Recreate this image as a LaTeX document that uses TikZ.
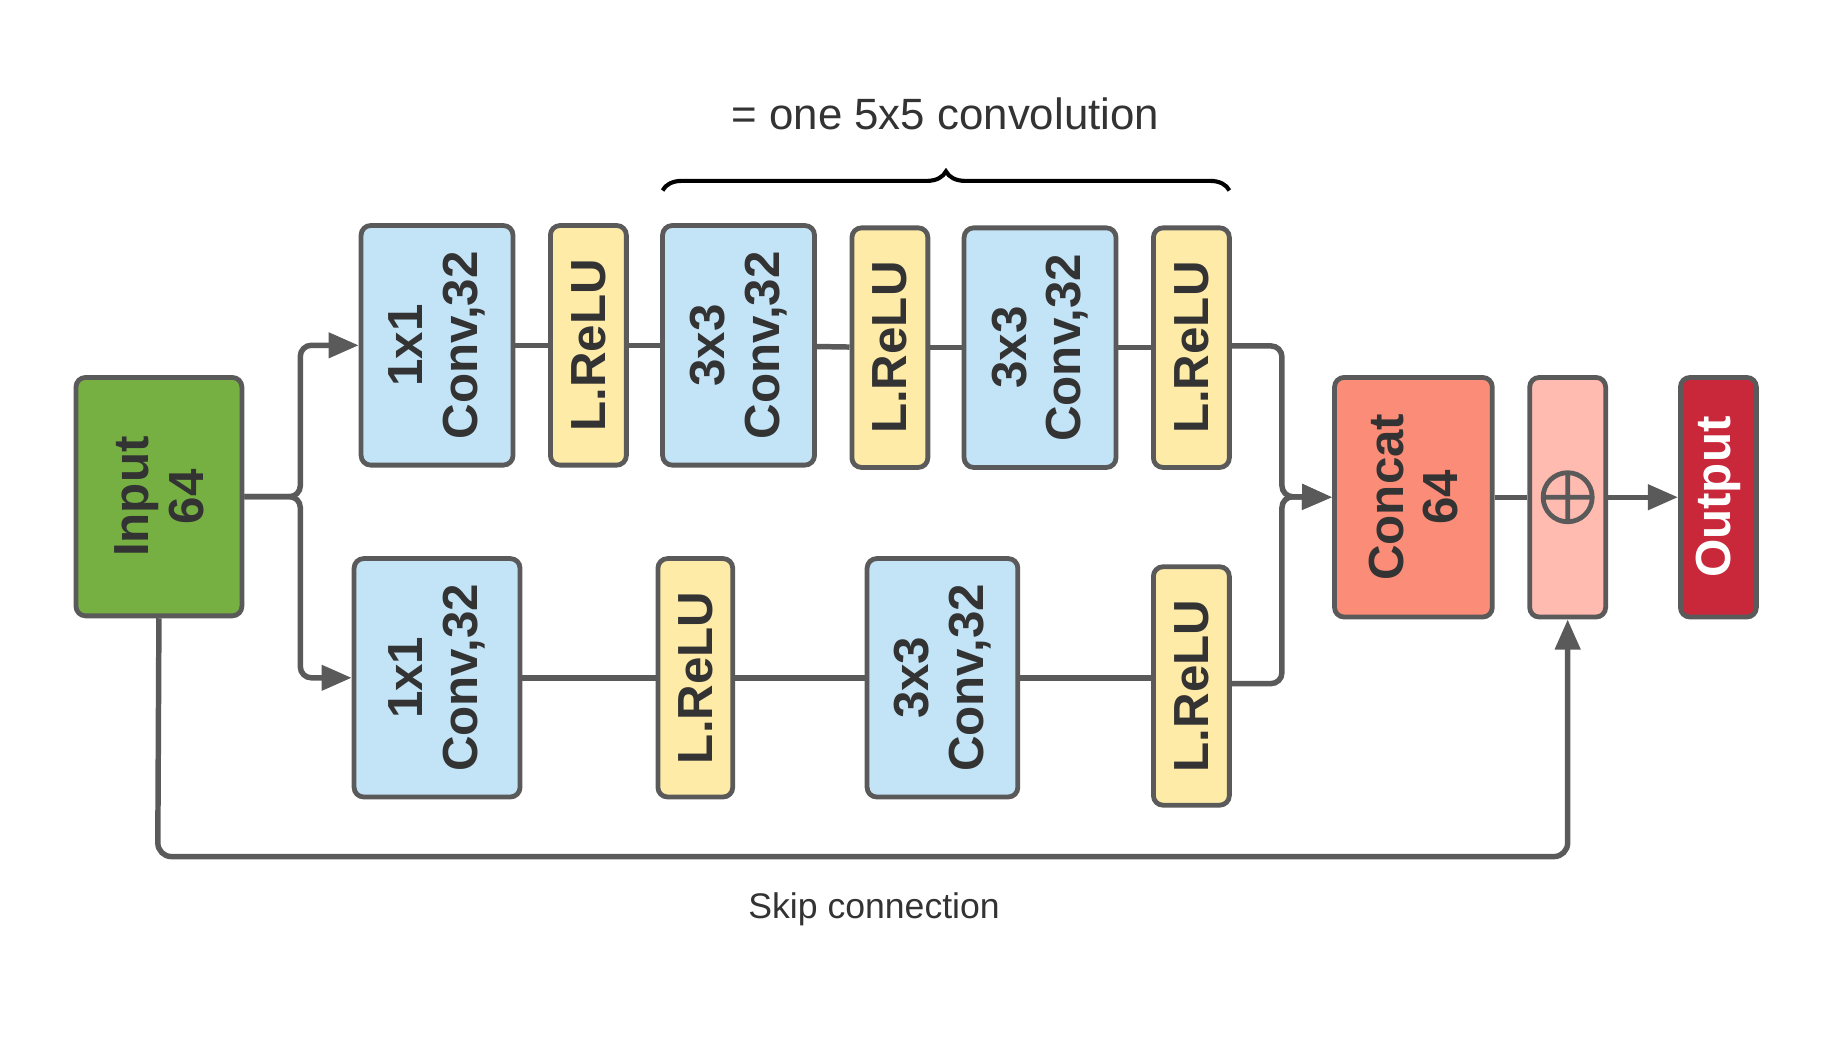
\documentclass[tikz,border=0pt]{standalone}
\usepackage{fontspec}
\setmainfont{Liberation Sans}
\usetikzlibrary{fit,arrows.meta,decorations.pathreplacing}
\definecolor{bl}{HTML}{C3E3F6}
\definecolor{yl}{HTML}{FFEBA8}
\definecolor{gr}{HTML}{76B043}
\definecolor{sal}{HTML}{FB8C78}
\definecolor{pk}{HTML}{FFBBB0}
\definecolor{rd}{HTML}{C8283A}
\definecolor{ln}{HTML}{5A5A5A}
\definecolor{tx}{HTML}{333333}
\begin{document}
\begin{tikzpicture}[x=0.03cm,y=-0.03cm,
  box/.style={draw=ln,line width=3.5pt,rounded corners=7pt,inner sep=0pt},
  lab/.style={rotate=90,align=center,font=\fontsize{36}{40}\selectfont\bfseries,text=tx},
  con/.style={draw=ln,line width=4pt,rounded corners=8pt},
  arr/.style={con,-{Triangle[length=22pt,width=18pt]}}]
\useasboundingbox (0,0) rectangle (1560,891);
\newcommand\blk[7]{\node[box,fill=#6,fit={(#2,#3)(#4,#5)}] (#1) {};
  \node[lab] (#1t) at (#1) {#7};}
% connectors first (behind boxes)
\coordinate (sp) at (257,425);
\coordinate (mg) at (1097,425);
\blk{in}{65}{323}{207}{527}{gr}{Input\\64}
\blk{a1}{309}{193}{439}{398}{bl}{1x1\\Conv,32}
\blk{a2}{471}{193}{536}{398}{yl}{L.ReLU}
\blk{a3}{567}{193}{697}{398}{bl}{3x3\\Conv,32}
\blk{a4}{729}{195}{794}{400}{yl}{L.ReLU}
\blk{a5}{825}{195}{955}{400}{bl}{3x3\\Conv,32}
\blk{a6}{987}{195}{1052}{400}{yl}{L.ReLU}
\blk{b1}{303}{478}{445}{682}{bl}{1x1\\Conv,32}
\blk{b2}{563}{478}{627}{682}{yl}{L.ReLU}
\blk{b3}{742}{478}{871}{682}{bl}{3x3\\Conv,32}
\blk{b4}{987}{485}{1052}{689}{yl}{L.ReLU}
\blk{cc}{1142}{323}{1277}{528}{sal}{Concat\\64}
\node[box,fill=pk,fit={(1309,323)(1374,528)}] (pl) {};
\node[box,fill=rd,fit={(1438,323)(1503,528)}] (out) {};
\node[rotate=90,font=\fontsize{36}{40}\selectfont\bfseries,text=white] (outt) at (out) {Output};
\draw[ln,line width=3.5pt] (pl) circle (21) +(-21,0) -- +(21,0) +(0,-21) -- +(0,21);
% connectors
\draw[arr] (in.east) -- (sp) |- (a1.west);
\draw[arr] (in.east) -- (sp) |- (b1.west);
\draw[con] (a1) -- (a2); \draw[con] (a2) -- (a3); \draw[con] (a3) -- (a4);
\draw[con] (a4) -- (a5); \draw[con] (a5) -- (a6);
\draw[con] (b1) -- (b2); \draw[con] (b2) -- (b3); \draw[con] (b3.east) -- (b3.east -| b4.west);
\draw[arr] (a6.east |- 0,296) -| (mg) -- (cc.west);
\draw[arr] (b4.east |- 0,585) -| (mg) -- (cc.west);
\draw[con] (cc) -- (pl);
\draw[arr] (pl) -- (out);
\draw[arr,rounded corners=10pt] (in.south) -- (135,733) -| (pl.south);
% brace
\draw[line width=3pt,decorate,decoration={brace,amplitude=14pt}] (567,163) -- (1052,163);
\node[font=\fontsize{32}{36}\selectfont,text=tx] (tt) at (809,97) {= one 5x5 convolution};
\node[font=\fontsize{26}{30}\selectfont,text=tx] (sk) at (748,778) {Skip connection};
\end{tikzpicture}
\end{document}
